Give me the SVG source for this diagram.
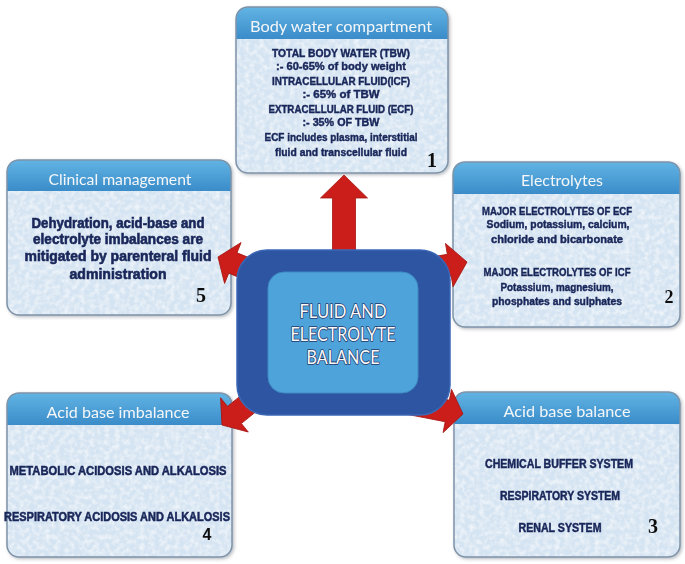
<svg xmlns="http://www.w3.org/2000/svg" width="685" height="564" viewBox="0 0 685 564">
<defs>
<linearGradient id="hdrG" x1="0" y1="0" x2="0" y2="1">
<stop offset="0" stop-color="#62B4E4"/>
<stop offset="1" stop-color="#3A8CC9"/>
</linearGradient>
<filter id="shadow" x="-5%" y="-5%" width="112%" height="112%">
<feDropShadow dx="1.5" dy="1.5" stdDeviation="1.5" flood-color="#3A4A5A" flood-opacity="0.35"/>
</filter>
<filter id="tex" x="0" y="0" width="100%" height="100%">
<feTurbulence type="fractalNoise" baseFrequency="0.2" numOctaves="2" seed="4" result="n"/>
<feColorMatrix in="n" type="matrix" values="0 0 0 0 1  0 0 0 0 1  0 0 0 0 1  0 0 0 -1.3 0.8" result="w"/>
<feComposite in="w" in2="SourceGraphic" operator="in" result="wc"/>
<feMerge><feMergeNode in="SourceGraphic"/><feMergeNode in="wc"/></feMerge>
</filter>
<style>
.body{fill:#D5E4F2;filter:url(#tex)}
.hdr{fill:url(#hdrG)}
.frame{fill:none;stroke:#7F93A8;stroke-width:1.5}
.title{font-family:"Lato","Open Sans",sans-serif;font-size:16px;fill:#F4F6F8;text-anchor:middle}
.t{font-family:"Liberation Sans",Arial,sans-serif;font-weight:bold;fill:#1A275A;stroke:#1A275A;stroke-width:0.45;text-anchor:middle;font-size:11.5px}
.t14{font-size:14px;stroke-width:0.6}
.t13{font-size:13px;stroke-width:0.55}
.t12{font-size:12px;stroke-width:0.5}
.num{font-family:"Liberation Serif","Times New Roman",serif;font-weight:bold;fill:#111;text-anchor:middle;font-size:20px}
.arrow{fill:#CB1E1A;stroke:#A51612;stroke-width:0.8}
.ctext{font-family:"Lato","Open Sans",sans-serif;font-size:19px;fill:#FAFAFA;text-anchor:middle;stroke:#22386A;stroke-width:1.6;paint-order:stroke;stroke-linejoin:round}
</style>
</defs>
<rect width="685" height="564" fill="#FFFFFF"/>

<g id="body-water" filter="url(#shadow)">
<rect class="body" x="236" y="7" width="212" height="166" rx="12"/>
<path class="hdr" d="M236,39 V19 Q236,7 248,7 H436 Q448,7 448,19 V39 Z"/>
<rect class="frame" x="236" y="7" width="212" height="166" rx="12"/>
<text class="title" x="341" y="32" textLength="182" lengthAdjust="spacingAndGlyphs">Body water compartment</text>
<text class="t" x="341" y="57" textLength="138" lengthAdjust="spacingAndGlyphs">TOTAL BODY WATER (TBW)</text>
<text class="t" x="341" y="70" textLength="130" lengthAdjust="spacingAndGlyphs">:- 60-65% of body weight</text>
<text class="t" x="341" y="85" textLength="138" lengthAdjust="spacingAndGlyphs">INTRACELLULAR FLUID(ICF)</text>
<text class="t" x="341" y="98" textLength="77" lengthAdjust="spacingAndGlyphs">:- 65% of TBW</text>
<text class="t" x="341" y="113" textLength="145" lengthAdjust="spacingAndGlyphs">EXTRACELLULAR FLUID (ECF)</text>
<text class="t" x="341" y="126" textLength="77" lengthAdjust="spacingAndGlyphs">:- 35% OF TBW</text>
<text class="t" x="341" y="141" textLength="153" lengthAdjust="spacingAndGlyphs">ECF includes plasma, interstitial</text>
<text class="t" x="341" y="156" textLength="132" lengthAdjust="spacingAndGlyphs">fluid and transcellular fluid</text>
<text class="num" x="432" y="167">1</text>
</g>

<g id="electrolytes" filter="url(#shadow)">
<rect class="body" x="453" y="162" width="227" height="165" rx="12"/>
<path class="hdr" d="M453,194 V174 Q453,162 465,162 H668 Q680,162 680,174 V194 Z"/>
<rect class="frame" x="453" y="162" width="227" height="165" rx="12"/>
<text class="title" x="562" y="186" textLength="82" lengthAdjust="spacingAndGlyphs">Electrolytes</text>
<text class="t" x="557" y="215" textLength="150" lengthAdjust="spacingAndGlyphs">MAJOR ELECTROLYTES OF ECF</text>
<text class="t" x="558" y="228" textLength="143" lengthAdjust="spacingAndGlyphs">Sodium, potassium, calcium,</text>
<text class="t" x="557" y="243" textLength="132" lengthAdjust="spacingAndGlyphs">chloride and bicarbonate</text>
<text class="t" x="557" y="276" textLength="147" lengthAdjust="spacingAndGlyphs">MAJOR ELECTROLYTES OF ICF</text>
<text class="t" x="557" y="291" textLength="113" lengthAdjust="spacingAndGlyphs">Potassium, magnesium,</text>
<text class="t" x="557" y="305" textLength="130" lengthAdjust="spacingAndGlyphs">phosphates and sulphates</text>
<text class="num" x="669" y="303" style="font-size:18px">2</text>
</g>

<g id="clinical-management" filter="url(#shadow)">
<rect class="body" x="7" y="160" width="224" height="155" rx="12"/>
<path class="hdr" d="M7,191 V172 Q7,160 19,160 H219 Q231,160 231,172 V191 Z"/>
<rect class="frame" x="7" y="160" width="224" height="155" rx="12"/>
<text class="title" x="120" y="185" textLength="143" lengthAdjust="spacingAndGlyphs">Clinical management</text>
<text class="t t14" x="118" y="228" textLength="173" lengthAdjust="spacingAndGlyphs">Dehydration, acid-base and</text>
<text class="t t14" x="118" y="244" textLength="170" lengthAdjust="spacingAndGlyphs">electrolyte imbalances are</text>
<text class="t t14" x="118" y="261" textLength="187" lengthAdjust="spacingAndGlyphs">mitigated by parenteral fluid</text>
<text class="t t14" x="118" y="279" textLength="97" lengthAdjust="spacingAndGlyphs">administration</text>
<text class="num" x="201" y="302">5</text>
</g>

<g id="acid-base-imbalance" filter="url(#shadow)">
<rect class="body" x="7" y="393" width="225" height="164" rx="12"/>
<path class="hdr" d="M7,425 V405 Q7,393 19,393 H220 Q232,393 232,405 V425 Z"/>
<rect class="frame" x="7" y="393" width="225" height="164" rx="12"/>
<text class="title" x="118" y="418" textLength="143" lengthAdjust="spacingAndGlyphs">Acid base imbalance</text>
<text class="t t13" x="118" y="475" textLength="217" lengthAdjust="spacingAndGlyphs">METABOLIC ACIDOSIS AND ALKALOSIS</text>
<text class="t t13" x="117" y="521" textLength="226" lengthAdjust="spacingAndGlyphs">RESPIRATORY ACIDOSIS AND ALKALOSIS</text>
<text class="num" x="207" y="540" style="font-family:'Liberation Sans',Arial,sans-serif;font-size:16px">4</text>
</g>

<g id="acid-base-balance" filter="url(#shadow)">
<rect class="body" x="454" y="392" width="226" height="165" rx="12"/>
<path class="hdr" d="M454,424 V404 Q454,392 466,392 H668 Q680,392 680,404 V424 Z"/>
<rect class="frame" x="454" y="392" width="226" height="165" rx="12"/>
<text class="title" x="567" y="417" textLength="127" lengthAdjust="spacingAndGlyphs">Acid base  balance</text>
<text class="t t12" x="559" y="468" textLength="148" lengthAdjust="spacingAndGlyphs">CHEMICAL BUFFER SYSTEM</text>
<text class="t t12" x="560" y="500" textLength="120" lengthAdjust="spacingAndGlyphs">RESPIRATORY SYSTEM</text>
<text class="t t12" x="560" y="532" textLength="83" lengthAdjust="spacingAndGlyphs">RENAL SYSTEM</text>
<text class="num" x="653" y="533">3</text>
</g>

<g id="connectors">
<path class="arrow" transform="translate(344,175) rotate(90)" d="M0,0 L23,-23.5 L23,-11.5 L90,-11.5 L90,11.5 L23,11.5 L23,23.5 Z"/>
<path class="arrow" transform="translate(218,257) rotate(22)" d="M0,0 L16,-22 L16,-11 L60,-11 L60,11 L16,11 L16,22 Z"/>
<path class="arrow" transform="translate(467,262) rotate(170)" d="M0,0 L18,-22 L18,-11 L60,-11 L60,11 L18,11 L18,22 Z"/>
<path class="arrow" transform="translate(222,425) rotate(-39)" d="M0,0 L16,-22 L16,-11 L60,-11 L60,11 L16,11 L16,22 Z"/>
<path class="arrow" transform="translate(463,414) rotate(191)" d="M0,0 L16,-22 L16,-11 L60,-11 L60,11 L16,11 L16,22 Z"/>
</g>

<g id="center">
<rect x="237" y="250" width="213" height="165" rx="30" fill="#2D55A2" stroke="#3B67B6" stroke-width="1.5"/>
<rect x="268" y="272" width="150" height="121" rx="16" fill="#4EA3DA" stroke="#3E8BC4" stroke-width="1"/>
<text class="ctext" x="343" y="318" textLength="87" lengthAdjust="spacingAndGlyphs">FLUID AND</text>
<text class="ctext" x="343" y="341" textLength="105" lengthAdjust="spacingAndGlyphs">ELECTROLYTE</text>
<text class="ctext" x="343" y="364" textLength="73" lengthAdjust="spacingAndGlyphs">BALANCE</text>
</g>
</svg>
